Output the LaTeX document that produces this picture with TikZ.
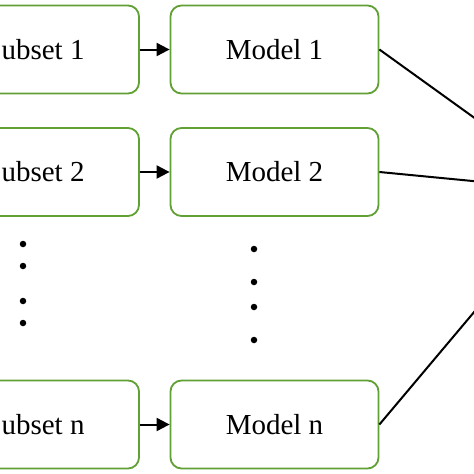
\documentclass[tikz,border=0pt]{standalone}
\usepackage{fontspec}
\setmainfont{Liberation Serif}
\usetikzlibrary{arrows.meta}
\definecolor{boxgreen}{RGB}{96,160,52}
\tikzset{
  box/.style={draw=boxgreen, line width=1.8pt, rounded corners=11pt, minimum width=208pt, minimum height=88pt, inner sep=0pt, font=\fontsize{29}{32}\selectfont, fill=white},
  link/.style={draw=black, line width=2pt},
  feed/.style={link, -{Triangle[length=13pt,width=13pt]}},
  dot/.style={circle, fill=black, inner sep=0pt, minimum size=6.5pt}
}
\begin{document}
\begin{tikzpicture}[x=1pt,y=1pt]
\useasboundingbox (0,0) rectangle (474,-474);
\clip (0,0) rectangle (474,-474);
\node[box] (s1) at (35,-49.5) {Subset 1};
\node[box] (s2) at (35,-172) {Subset 2};
\node[box] (sn) at (35,-424.5) {Subset n};
\node[box] (m1) at (274.5,-49.5) {Model 1};
\node[box] (m2) at (274.5,-172) {Model 2};
\node[box] (mn) at (274.5,-424.5) {Model n};
\coordinate (out) at (576,-191);
\draw[feed] (s1.east) -- (m1.west);
\draw[feed] (s2.east) -- (m2.west);
\draw[feed] (sn.east) -- (mn.west);
\draw[link] (m1.east) -- (out);
\draw[link] (m2.east) -- (out);
\draw[link] (mn.east) -- (out);
\node[dot] (l1) at (23,-244) {};
\node[dot] (l2) at (23,-266) {};
\node[dot] (l3) at (23,-301) {};
\node[dot] (l4) at (23,-323) {};
\node[dot] (r1) at (254,-249) {};
\node[dot] (r2) at (254,-282) {};
\node[dot] (r3) at (254,-307) {};
\node[dot] (r4) at (254,-340) {};
\end{tikzpicture}
\end{document}
